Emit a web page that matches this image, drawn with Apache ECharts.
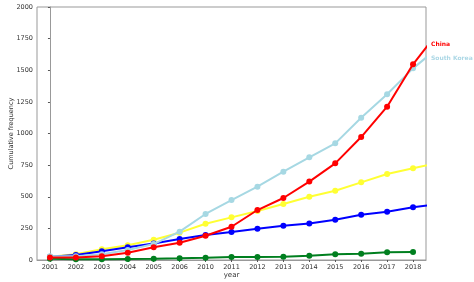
<!DOCTYPE html>
<html>
<head>
<meta charset="utf-8">
<script src="https://cdn.jsdelivr.net/npm/echarts@6/dist/echarts.min.js"></script>
<style>html,body{margin:0;padding:0;background:#fff}#c{width:474px;height:282px}</style>
</head>
<body>
<div id="c"></div>
<script>
var years = ['2001','2002','2003','2004','2005','2006','2010','2011','2012','2013','2014','2015','2016','2017','2018'];
var yTicks = [0, 250, 500, 750, 1000, 1250, 1500, 1750, 2000];
// last value of each clipped line lies beyond the right edge of the axis
var southKorea = [30, 30, 45, 79, 126, 224, 364, 474, 580, 698, 812, 922, 1125, 1310, 1515, 1683];
var china      = [20, 20, 30, 58, 100, 137, 192, 263, 395, 490, 620, 764, 972, 1212, 1547, 1809];
var yellowS    = [25, 45, 85, 116, 160, 216, 287, 337, 387, 443, 500, 548, 614, 680, 725, 771];
var blueS      = [25, 40, 70, 100, 130, 166, 198, 221, 247, 271, 288, 319, 358, 382, 417, 443];
var greenS     = [10, 5, 6, 8, 10, 13, 18, 24, 24, 26, 34, 45, 50, 61, 63];

function pts(arr){ return arr.map(function(v,i){ return [i, v]; }); }

var chart = echarts.init(document.getElementById('c'), null, {renderer:'canvas'});
var font = 'DejaVu Sans';
function ser(name, data, color, z){
  return {
    name: name, type: 'line', xAxisIndex: 1, yAxisIndex: 0,
    data: pts(data), symbol: 'circle', symbolSize: 6, clip: true,
    lineStyle: {color: color, width: 2}, itemStyle: {color: color},
    z: z, animation: false
  };
}
chart.setOption({
  animation: false,
  grid: {left: 37, right: 48, top: 7, bottom: 22, containLabel: false, outerBoundsMode: 'none',
         show: true, borderColor: '#999', borderWidth: 1},
  xAxis: [{
    type: 'category', data: years, boundaryGap: true,
    name: 'year', nameLocation: 'middle', nameGap: 12, nameMoveOverlap: false,
    nameTextStyle: {fontFamily: font, fontSize: 7, color: '#333'},
    axisLine: {show: true, lineStyle: {color: '#999'}},
    axisTick: {show: true, alignWithLabel: true, length: 2, lineStyle: {color: '#555'}},
    axisLabel: {fontFamily: font, fontSize: 6.5, color: '#333', margin: 4, interval: 0, hideOverlap: false},
    splitLine: {show: false}
  }, {
    type: 'value', min: -0.5, max: 14.5, show: false, splitLine: {show: false}
  }],
  yAxis: [{
    type: 'value', min: 0, max: 2000, interval: 250,
    name: 'Cumulative frequency', nameLocation: 'middle', nameGap: 22, nameRotate: 90, nameMoveOverlap: false,
    nameTextStyle: {fontFamily: font, fontSize: 6.5, color: '#333'},
    axisLine: {show: true, lineStyle: {color: '#999'}},
    axisTick: {show: true, length: 2, lineStyle: {color: '#555'}},
    axisLabel: {fontFamily: font, fontSize: 6.5, color: '#333', margin: 4,
      formatter: function(v){ return yTicks.indexOf(v) >= 0 ? String(v) : ''; }},
    splitLine: {show: false}
  }],
  graphic: [
    {type: 'text', left: 431, top: 41, style: {text: 'China', fill: '#ff0000', font: 'bold 6px "DejaVu Sans"'}},
    {type: 'text', left: 431, top: 55, style: {text: 'South Korea', fill: '#add8e6', font: 'bold 6px "DejaVu Sans"'}}
  ],
  series: [
    ser('Green', greenS, '#007f1f', 2),
    ser('Yellow', yellowS, '#ffff33', 3),
    ser('Blue', blueS, '#0000ff', 4),
    ser('South Korea', southKorea, '#a6d8e3', 5),
    ser('China', china, '#ff0000', 6)
  ]
});
</script>
</body>
</html>
